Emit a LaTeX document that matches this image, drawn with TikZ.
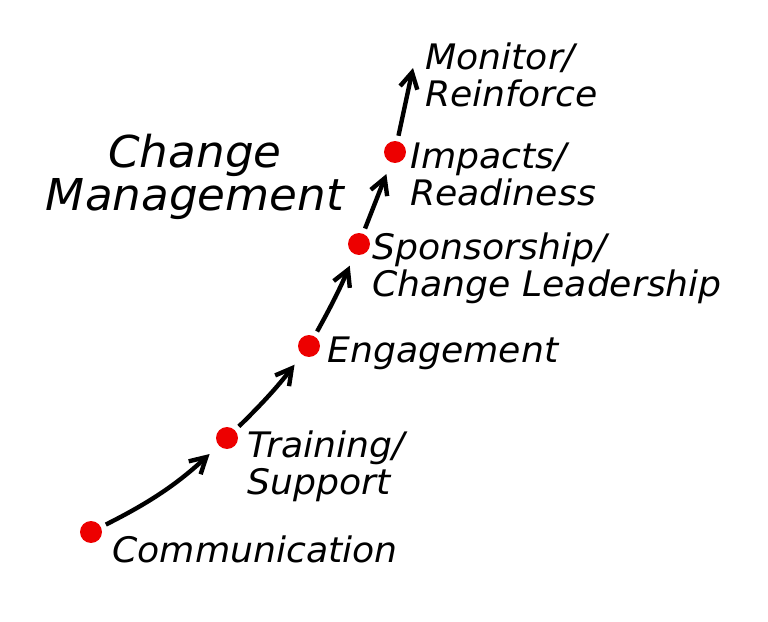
\documentclass[tikz,border=0pt]{standalone}
\usepackage{fontspec}
\setmainfont{DejaVu Sans}[FakeStretch=1.03]
\usetikzlibrary{arrows.meta}
\definecolor{dotred}{rgb}{0.93, 0.0, 0.0}

\tikzset{
  reddot/.style={circle,fill=dotred,inner sep=0pt,minimum size=12.5pt},
  steptext/.style={anchor=west,inner sep=0pt,align=left,
    font=\itshape\fontsize{20}{21}\selectfont},
  stepline/.style={-{Straight Barb[length=9pt,width=10pt]},line width=2.5pt,
    shorten <=3pt,shorten >=7pt}
}

\begin{document}
\begin{tikzpicture}[x=0.02cm,y=-0.02cm]
			\useasboundingbox (0,0) rectangle (768,622);
			\node[reddot] (comm) at (91,532) {};
			\node[reddot] (train) at (227,438) {};
			\node[reddot] (engage) at (309,346) {};
			\node[reddot] (sponsor) at (359,244) {};
			\node[reddot] (impact) at (395,152) {};
			\coordinate (monitor) at (413,68);
			
			\node[steptext] at (112,549) {Communication};
			\node[steptext] at (247,466) {Training/\\Support};
			\node[steptext] at (327,353) {Engagement};
			\node[steptext] at (372,268) {Sponsorship/\\Change Leadership};
			\node[steptext] at (410,174) {Impacts/\\Readiness};
			\node[steptext] at (425,75) {Monitor/\\Reinforce};
			\node[align=center,inner sep=0pt,font=\itshape\fontsize{25}{22}\selectfont] (title) at (195,177) {Change\\Management};
			
			\draw[stepline] (comm) to[bend right=8] (train);
			\draw[stepline] (train) to[bend right=4] (engage);
			\draw[stepline] (engage) to[bend right=3] (sponsor);
			\draw[stepline] (sponsor) -- (impact);
			\draw[stepline,shorten >=0pt] (impact) -- (monitor);
\end{tikzpicture}
\end{document}
